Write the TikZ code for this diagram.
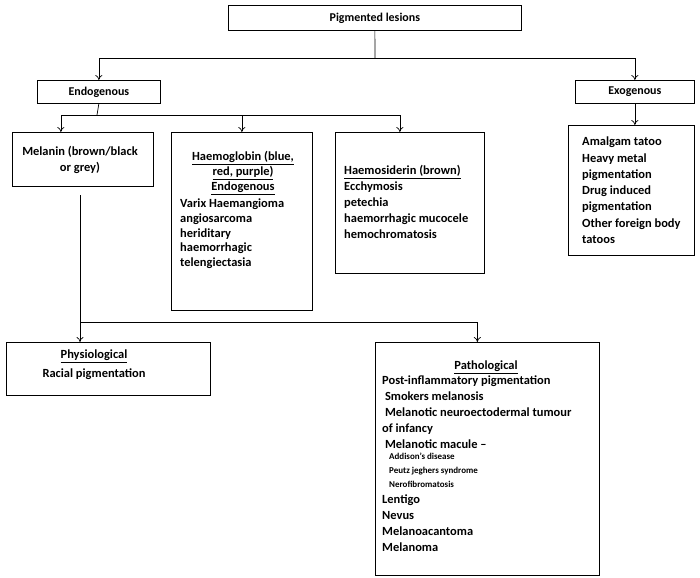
\documentclass[tikz,border=0pt]{standalone}
\usepackage{fontspec}
\setmainfont{Carlito}
\usetikzlibrary{arrows.meta}
\begin{document}
\begin{tikzpicture}[x=1bp,y=-1bp,
  box/.style={draw,line width=0.7pt,anchor=north west,inner sep=0pt},
  txt/.style={anchor=north west,inner sep=0pt,align=left,font=\bfseries\fontsize{12.5}{16}\selectfont},
  arr/.style={-{To[length=5pt,width=7pt]},line width=0.7pt},
  ln/.style={line width=0.7pt}]
\useasboundingbox (0,0) rectangle (700,578);
% boxes
\node[box,minimum width=293bp,minimum height=25bp,font=\bfseries\fontsize{12}{13}\selectfont] (pig) at (228,5) {Pigmented lesions};
\node[box,minimum width=123bp,minimum height=23bp,font=\bfseries\fontsize{12}{13}\selectfont] (endo) at (37,80) {Endogenous};
\node[box,minimum width=119bp,minimum height=23bp,font=\bfseries\fontsize{12}{13}\selectfont] (exo) at (575,80) {Exogenous};
\node[box,minimum width=141bp,minimum height=54bp] (mel) at (12,132) {};
\node[txt,align=center,anchor=north] (melt) at (80,146) {Melanin (brown/black\\or grey)};
\node[box,minimum width=141bp,minimum height=178bp] (hgb) at (171,132) {};
\node[txt,align=center,anchor=north,font=\bfseries\fontsize{12.5}{15}\selectfont] (hgbh) at (243,151) {\underline{Haemoglobin (blue,}\\\underline{red, purple)}\\\underline{Endogenous}};
\node[txt,font=\bfseries\fontsize{12.5}{14.7}\selectfont] (hgbt) at (180,199) {Varix Haemangioma\\angiosarcoma\\heriditary\\haemorrhagic\\telengiectasia};
\node[box,minimum width=149bp,minimum height=141bp] (hsd) at (335,132) {};
\node[txt] (hsdt) at (344,165) {\underline{Haemosiderin (brown)}\\Ecchymosis\\petechia\\haemorrhagic mucocele\\hemochromatosis};
\node[box,minimum width=126bp,minimum height=130bp] (exl) at (568,125) {};
\node[txt,font=\bfseries\fontsize{12.5}{16.3}\selectfont] (exlt) at (582,137) {Amalgam tatoo\\Heavy metal\\pigmentation\\Drug induced\\pigmentation\\Other foreign body\\tatoos};
\node[box,minimum width=204bp,minimum height=53bp] (phy) at (6,342) {};
\node[txt,align=center,anchor=north,font=\bfseries\fontsize{12.5}{19}\selectfont] (phyt) at (94,350) {\underline{Physiological}\\Racial pigmentation};
\node[box,minimum width=224bp,minimum height=233bp] (pat) at (375,342) {};
\node[txt,anchor=north] (patt0) at (486,361) {\underline{Pathological}};
\node[txt] (patt1) at (382,376) {Post-inflammatory pigmentation\\\ Smokers melanosis\\\ Melanotic neuroectodermal tumour\\of infancy\\\ Melanotic macule --};
\node[txt,font=\bfseries\fontsize{9}{14}\selectfont] (patt2) at (389,453) {Addison’s disease\\Peutz jeghers syndrome\\Nerofibromatosis};
\node[txt] (patt3) at (382,495) {Lentigo\\Nevus\\Melanoacantoma\\Melanoma};
% connectors
\coordinate (j1) at (375,58);
\draw[ln] (pig.south) -- (j1);
\draw[arr] (j1) -| (endo.north);
\draw[arr] (j1) -| (exo.north);
\coordinate (j2) at (97,115);
\draw[ln] (endo.south) -- (j2);
\draw[arr] (j2) -| ([xshift=-22bp]mel.north);
\draw[arr] (j2) -| (hgb.north);
\draw[arr] (j2) -| ([xshift=-10bp]hsd.north);
\draw[arr] (exo.south) -- (exo.south |- exl.north);
\coordinate (m0) at (80,195);
\coordinate (j3) at (80,322);
\draw[arr] (m0) -- (phy.north -| m0);
\draw[arr] (j3) -| ([xshift=-10bp]pat.north);
\end{tikzpicture}
\end{document}
